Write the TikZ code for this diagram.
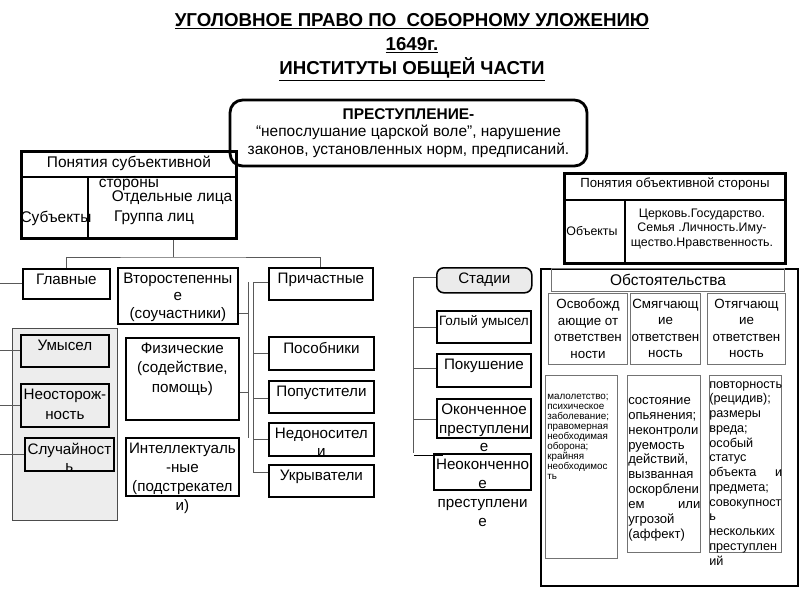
\documentclass[tikz,border=0pt]{standalone}
\usepackage{fontspec}
\setmainfont{Liberation Sans}

% a box given by its corners, its text hanging from the top edge
\newcommand{\cellbox}[8]{%
  \node[#2, anchor=north west, inner sep=0pt,
    minimum width={(#5-#3)*0.025cm}, minimum height={(#6-#4)*0.025cm}] (#1) at (#3,#4) {};
  \node[txt, #7] at ([yshift=-4pt]#1.north) {#8};
}

\begin{document}
\begin{tikzpicture}[x=0.025cm, y=-0.025cm,
    box/.style={draw, line width=1.3pt},
    tablebox/.style={draw, line width=2pt},
    thinbox/.style={draw=black!55, line width=0.7pt},
    txt/.style={anchor=north, align=center, inner sep=0pt, font=\fontsize{10.8}{13}\selectfont},
    lbl/.style={inner sep=0pt, font=\fontsize{11}{13}\selectfont},
    conn/.style={draw=black!65, line width=0.7pt}]
  \useasboundingbox (0,0) rectangle (800,600);

  % title
  \node[align=center, font=\bfseries\fontsize{13.3}{17}\selectfont] (title) at (412,47)
    {\underline{УГОЛОВНОЕ ПРАВО ПО\ \ СОБОРНОМУ УЛОЖЕНИЮ}\\
     \underline{1649г.}\\ \underline{ИНСТИТУТЫ ОБЩЕЙ ЧАСТИ}};

  % crime
  \node[draw, line width=2pt, rounded corners=9pt, align=center,
    minimum width={357*0.025cm}, minimum height={66*0.025cm},
    font=\fontsize{11}{12.3}\selectfont] (crime) at (408.5,133)
    {\textbf{ПРЕСТУПЛЕНИЕ-}\\“непослушание царской воле”, нарушение\\
     законов, установленных норм, предписаний.};

  % subjective side
  \cellbox{subj}{tablebox}{20}{150}{235}{237}{font=\fontsize{11}{14.5}\selectfont}{Понятия субъективной\\стороны}
  \draw[line width=1pt] (20,177) -- (235,177) (88,177) -- (88,237);
  \node[lbl] (subjlist) at (172,198) {Отдельные лица};
  \node[lbl] (subjname) at (56,218) {Субъекты};
  \node[lbl] (subjgroup) at (154,218) {Группа лиц};

  % objective side
  \cellbox{obj}{tablebox}{563}{172}{784}{262}{font=\fontsize{9.4}{11}\selectfont}{Понятия объективной стороны}
  \draw[line width=1pt] (563,200) -- (784,200) (625,200) -- (625,262);
  \node[lbl, font=\fontsize{8.8}{10}\selectfont] (objname) at (592,231) {Объекты};
  \node[lbl, align=center, font=\fontsize{8.8}{10}\selectfont] (objlist) at (702,229)
    {Церковь.Государство.\\Семья .Личность.Иму-\\щество.Нравственность.};

  % participants
  \cellbox{glav}{box}{22}{268}{109}{298}{}{Главные}
  \cellbox{vtor}{box}{117}{267}{237}{323}{font=\fontsize{10.8}{12.4}\selectfont}{Второстепенны\\е\\(соучастники)}
  \cellbox{prich}{box}{268}{267}{372}{299}{}{Причастные}
  \cellbox{fiz}{box}{125}{337}{238}{419}{font=\fontsize{10.8}{13.8}\selectfont}{Физические\\(содействие,\\помощь)}
  \cellbox{intel}{box}{125}{437}{238}{495}{font=\fontsize{10.8}{13.5}\selectfont}{Интеллектуаль\\-ные\\(подстрекател\\и)}
  \cellbox{posob}{box}{268}{336}{373}{369}{}{Пособники}
  \cellbox{popust}{box}{268}{380}{373}{412}{}{Попустители}
  \cellbox{nedon}{box}{268}{422}{373}{455}{}{Недоносител\\и}
  \cellbox{ukryv}{box}{268}{464}{373}{496}{}{Укрыватели}

  % forms of guilt
  \node[draw=black!70, line width=1pt, fill=black!7, anchor=north west, inner sep=0pt,
    minimum width={105*0.025cm}, minimum height={192*0.025cm}] (vina) at (12,328) {};
  \cellbox{umys}{box}{20}{334}{108}{366}{}{Умысел}
  \cellbox{neost}{box}{20}{383}{108}{426}{font=\fontsize{10.8}{14}\selectfont}{Неосторож-\\ность}
  \cellbox{sluch}{box}{24}{437}{113}{470}{font=\fontsize{10.8}{12}\selectfont}{Случайност\\ь}

  % connectors on the left
  \coordinate (lm) at (0,0);
  \foreach \n in {glav, umys, neost, sluch}
    \draw[conn] (\n.west) -- (\n.west -| lm);
  \coordinate (sb) at (173,257);
  \draw[conn] (sb |- subj.south) -- (sb);
  \draw[conn] (glav.north) |- (sb) -| (prich.north);
  \coordinate (ba1) at (248,282); \coordinate (ba2) at (248,438);
  \coordinate (bb1) at (253,282); \coordinate (bb2) at (253,472);
  \draw[conn] (ba1) -- (ba2) (bb1) -- (bb2);
  \foreach \n/\y in {vtor/313, fiz/392}
    {\coordinate (tk) at (248,\y); \draw[conn] (tk) -- (tk -| \n.east);}
  \foreach \n/\y in {prich/282, posob/353, popust/398, nedon/439, ukryv/472}
    {\coordinate (tk) at (253,\y); \draw[conn] (tk) -- (tk -| \n.west);}

  % stages
  \cellbox{stadii}{box, rounded corners=5pt, fill=black!8, line width=1.1pt}{436}{267}{531}{292}{}{Стадии}
  \cellbox{golyi}{box}{436}{310}{530}{342}{font=\fontsize{9.6}{12}\selectfont}{Голый умысел}
  \cellbox{pokush}{box}{436}{353}{530}{386}{}{Покушение}
  \cellbox{okonch}{box, line width=1.6pt}{436}{398}{530}{437}{font=\fontsize{10.8}{13.3}\selectfont}{Оконченное\\преступлени\\е}
  \cellbox{neok}{box, line width=1.6pt}{433}{453}{530}{489}{font=\fontsize{10.8}{13.5}\selectfont}{Неоконченно\\е\\преступлени\\е}
  \coordinate (sg1) at (413,277); \coordinate (sg2) at (413,453);
  \draw[conn] (sg1) -- (sg2);
  \foreach \n/\y in {stadii/277, golyi/327, pokush/368, okonch/419}
    {\coordinate (tk) at (413,\y); \draw[conn] (tk) -- (tk -| \n.west);}
  \coordinate (tk) at (414,455);
  \draw[conn, draw=black] (tk) -- ++(29,0);

  % circumstances
  \node[draw, line width=1.2pt, anchor=north west, inner sep=0pt,
    minimum width={257*0.025cm}, minimum height={317*0.025cm}] (circ) at (540,268) {};
  \cellbox{circh}{thinbox}{551}{268}{784}{291}{font=\fontsize{11}{13}\selectfont}{Обстоятельства}
  \cellbox{c1h}{thinbox}{548}{293}{627}{364}{font=\fontsize{9.5}{11.7}\selectfont}{Освобожд\\ающие от\\ответствен\\ности}
  \cellbox{c2h}{thinbox}{630}{293}{700}{364}{font=\fontsize{9.5}{11.7}\selectfont}{Смягчающ\\ие\\ответствен\\ность}
  \cellbox{c3h}{thinbox}{707}{293}{785}{364}{font=\fontsize{9.5}{11.7}\selectfont}{Отягчающ\\ие\\ответствен\\ность}
  \foreach \n/\xa/\xb/\yb in {c1/545/617/558, c2/627/700/552, c3/709/781/552}
    \node[thinbox, anchor=north west, inner sep=0pt, minimum width={(\xb-\xa)*0.025cm},
      minimum height={(\yb-375)*0.025cm}] (\n) at (\xa,375) {};
  \node[anchor=north west, inner sep=0pt, align=left, font=\fontsize{7}{7.1}\selectfont] (c1text) at (547,394)
    {малолетство;\\психическое\\заболевание;\\правомерная\\необходимая\\оборона;\\крайняя\\необходимос\\ть};
  \node[anchor=north west, inner sep=0pt, text width=1.8cm, align=left, font=\fontsize{9.3}{10.6}\selectfont] (c2text) at (628,397)
    {состояние\\опьянения;\\неконтроли\\руемость\\действий,\\вызванная\\оскорблени\\ем\hfill или\\угрозой\\(аффект)};
  \node[anchor=north west, inner sep=0pt, text width=1.82cm, align=left, font=\fontsize{9}{10.5}\selectfont] (c3text) at (709,381)
    {повторность\\(рецидив);\\размеры\\вреда;\\особый\\статус\\объекта\hfill и\\предмета;\\совокупност\\ь\\нескольких\\преступлен\\ий};
\end{tikzpicture}
\end{document}
